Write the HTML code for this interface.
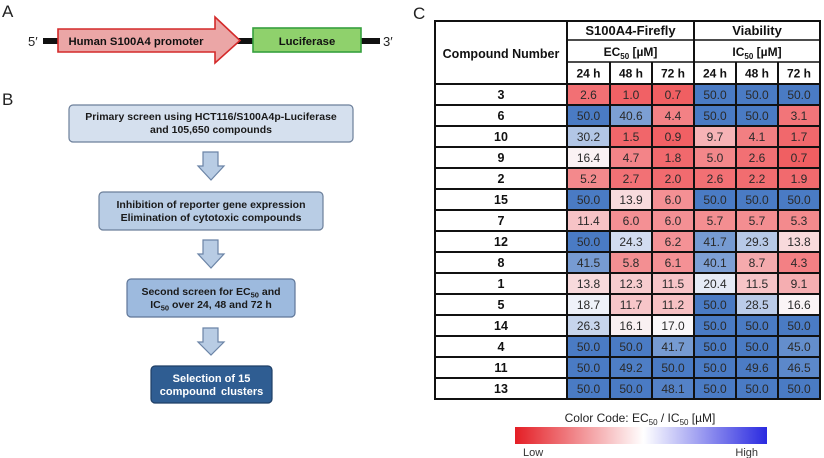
<!DOCTYPE html>
<html><head><meta charset="utf-8"><style>
html,body{margin:0;padding:0;background:#fff;}
svg{display:block;}
text{font-family:"Liberation Sans",Arial,sans-serif;}
</style></head><body>
<svg width="824" height="458" viewBox="0 0 824 458" xmlns="http://www.w3.org/2000/svg">
<defs>
<linearGradient id="cc" x1="0" y1="0" x2="1" y2="0">
<stop offset="0" stop-color="#e41e25"/>
<stop offset="0.51" stop-color="#ffffff"/>
<stop offset="1" stop-color="#2a2ae0"/>
</linearGradient>
</defs>
<rect width="824" height="458" fill="#fff"/>

<!-- Panel A -->
<text x="2" y="17" font-size="17" fill="#222">A</text>
<text x="28" y="46" font-size="13" fill="#222">5′</text>
<rect x="43" y="38" width="337" height="6" fill="#111"/>
<path d="M58,29 L215,29 L215,17 L240,40.5 L215,63 L215,52 L58,52 Z" fill="#eba6a6" stroke="#d42a2a" stroke-width="1.6"/>
<text x="136" y="45" font-size="11.3" font-weight="bold" text-anchor="middle" fill="#111">Human S100A4 promoter</text>
<rect x="253" y="28" width="108" height="24" fill="#8fd16c" stroke="#36a03e" stroke-width="1.6"/>
<text x="307" y="45" font-size="11.3" font-weight="bold" text-anchor="middle" fill="#111">Luciferase</text>
<text x="383" y="46" font-size="13" fill="#222">3′</text>

<!-- Panel B -->
<text x="2" y="105" font-size="17" fill="#222">B</text>
<rect x="69" y="105" width="284" height="37" rx="4" fill="#d5e0ee" stroke="#6c7f9a" stroke-width="1.2"/>
<text x="211" y="120" font-size="10.5" font-weight="bold" text-anchor="middle" fill="#1a1a1a">Primary screen using HCT116/S100A4p-Luciferase</text>
<text x="211" y="133" font-size="10.5" font-weight="bold" text-anchor="middle" fill="#1a1a1a">and 105,650 compounds</text>

<path d="M203,152 L218,152 L218,166 L224,166 L211,180 L198,166 L203,166 Z" fill="#b8cce4" stroke="#6b84a6" stroke-width="1.2"/>

<rect x="99" y="192" width="224" height="38" rx="4" fill="#b9cde5" stroke="#6c7f9a" stroke-width="1.2"/>
<text x="211" y="208" font-size="10.5" font-weight="bold" text-anchor="middle" fill="#1a1a1a">Inhibition of reporter gene expression</text>
<text x="211" y="221" font-size="10.5" font-weight="bold" text-anchor="middle" fill="#1a1a1a">Elimination of cytotoxic compounds</text>

<path d="M203,240 L218,240 L218,254 L224,254 L211,268 L198,254 L203,254 Z" fill="#b8cce4" stroke="#6b84a6" stroke-width="1.2"/>

<rect x="127" y="279" width="168" height="38" rx="4" fill="#9dbade" stroke="#5f7698" stroke-width="1.2"/>
<text x="211" y="295" font-size="10.5" font-weight="bold" text-anchor="middle" fill="#1a1a1a">Second screen for EC<tspan font-size="7.5" dy="2.5">50</tspan><tspan dy="-2.5"> and</tspan></text>
<text x="211" y="308" font-size="10.5" font-weight="bold" text-anchor="middle" fill="#1a1a1a">IC<tspan font-size="7.5" dy="2.5">50</tspan><tspan dy="-2.5"> over 24, 48 and 72 h</tspan></text>

<path d="M203,328 L218,328 L218,342 L224,342 L211,355 L198,342 L203,342 Z" fill="#b8cce4" stroke="#6b84a6" stroke-width="1.2"/>

<rect x="151" y="366" width="121" height="37" rx="4" fill="#2f5d92" stroke="#1f3f66" stroke-width="1.2"/>
<text x="211.5" y="382" font-size="11" font-weight="bold" text-anchor="middle" fill="#fff">Selection of 15</text>
<text x="211.5" y="395" font-size="11" font-weight="bold" text-anchor="middle" fill="#fff" word-spacing="2">compound clusters</text>

<!-- Panel C -->
<text x="413" y="19" font-size="17" fill="#222">C</text>
<rect x="435" y="21" width="385" height="378" fill="#fff"/>

<g id="cells">
<!-- row 3 -->
<rect x="567" y="84" width="43" height="21" fill="#f27074"/><rect x="610" y="84" width="42" height="21" fill="#f16165"/><rect x="652" y="84" width="42" height="21" fill="#f05f62"/><rect x="694" y="84" width="42" height="21" fill="#4a7bc4"/><rect x="736" y="84" width="42" height="21" fill="#4a7bc4"/><rect x="778" y="84" width="42" height="21" fill="#4a7bc4"/>
<!-- row 6 -->
<rect x="567" y="105" width="43" height="21" fill="#4a7bc4"/><rect x="610" y="105" width="42" height="21" fill="#7c9fd4"/><rect x="652" y="105" width="42" height="21" fill="#f38185"/><rect x="694" y="105" width="42" height="21" fill="#4a7bc4"/><rect x="736" y="105" width="42" height="21" fill="#4a7bc4"/><rect x="778" y="105" width="42" height="21" fill="#f27579"/>
<!-- row 10 -->
<rect x="567" y="126" width="43" height="21" fill="#b2c6e6"/><rect x="610" y="126" width="42" height="21" fill="#f1666a"/><rect x="652" y="126" width="42" height="21" fill="#f16064"/><rect x="694" y="126" width="42" height="21" fill="#f6b3b6"/><rect x="736" y="126" width="42" height="21" fill="#f27f82"/><rect x="778" y="126" width="42" height="21" fill="#f1686c"/>
<!-- row 9 -->
<rect x="567" y="147" width="43" height="21" fill="#faf2f4"/><rect x="610" y="147" width="42" height="21" fill="#f38488"/><rect x="652" y="147" width="42" height="21" fill="#f1696d"/><rect x="694" y="147" width="42" height="21" fill="#f3878a"/><rect x="736" y="147" width="42" height="21" fill="#f27074"/><rect x="778" y="147" width="42" height="21" fill="#f05f62"/>
<!-- row 2 -->
<rect x="567" y="168" width="43" height="21" fill="#f3898c"/><rect x="610" y="168" width="42" height="21" fill="#f27175"/><rect x="652" y="168" width="42" height="21" fill="#f16b6f"/><rect x="694" y="168" width="42" height="21" fill="#f27074"/><rect x="736" y="168" width="42" height="21" fill="#f16d70"/><rect x="778" y="168" width="42" height="21" fill="#f16a6e"/>
<!-- row 15 -->
<rect x="567" y="189" width="43" height="21" fill="#4a7bc4"/><rect x="610" y="189" width="42" height="21" fill="#f8dbdd"/><rect x="652" y="189" width="42" height="21" fill="#f49094"/><rect x="694" y="189" width="42" height="21" fill="#4a7bc4"/><rect x="736" y="189" width="42" height="21" fill="#4a7bc4"/><rect x="778" y="189" width="42" height="21" fill="#4a7bc4"/>
<!-- row 7 -->
<rect x="567" y="210" width="43" height="21" fill="#f7c3c6"/><rect x="610" y="210" width="42" height="21" fill="#f49094"/><rect x="652" y="210" width="42" height="21" fill="#f49094"/><rect x="694" y="210" width="42" height="21" fill="#f38e91"/><rect x="736" y="210" width="42" height="21" fill="#f38e91"/><rect x="778" y="210" width="42" height="21" fill="#f38a8d"/>
<!-- row 12 -->
<rect x="567" y="231" width="43" height="21" fill="#4a7bc4"/><rect x="610" y="231" width="42" height="21" fill="#d2dcf0"/><rect x="652" y="231" width="42" height="21" fill="#f49296"/><rect x="694" y="231" width="42" height="21" fill="#769bd2"/><rect x="736" y="231" width="42" height="21" fill="#b7c9e7"/><rect x="778" y="231" width="42" height="21" fill="#f8dadc"/>
<!-- row 8 -->
<rect x="567" y="252" width="43" height="21" fill="#779bd2"/><rect x="610" y="252" width="42" height="21" fill="#f38f92"/><rect x="652" y="252" width="42" height="21" fill="#f49195"/><rect x="694" y="252" width="42" height="21" fill="#7ea0d5"/><rect x="736" y="252" width="42" height="21" fill="#f5aaad"/><rect x="778" y="252" width="42" height="21" fill="#f38084"/>
<!-- row 1 -->
<rect x="567" y="273" width="43" height="21" fill="#f8dadc"/><rect x="610" y="273" width="42" height="21" fill="#f7ccce"/><rect x="652" y="273" width="42" height="21" fill="#f7c4c7"/><rect x="694" y="273" width="42" height="21" fill="#e6ebf6"/><rect x="736" y="273" width="42" height="21" fill="#f7c4c7"/><rect x="778" y="273" width="42" height="21" fill="#f5aeb1"/>
<!-- row 5 -->
<rect x="567" y="294" width="43" height="21" fill="#eff2f9"/><rect x="610" y="294" width="42" height="21" fill="#f7c6c9"/><rect x="652" y="294" width="42" height="21" fill="#f7c1c4"/><rect x="694" y="294" width="42" height="21" fill="#4a7bc4"/><rect x="736" y="294" width="42" height="21" fill="#bbcce9"/><rect x="778" y="294" width="42" height="21" fill="#faf4f6"/>
<!-- row 14 -->
<rect x="567" y="315" width="43" height="21" fill="#c7d5ec"/><rect x="610" y="315" width="42" height="21" fill="#f9f0f2"/><rect x="652" y="315" width="42" height="21" fill="#faf8fa"/><rect x="694" y="315" width="42" height="21" fill="#4a7bc4"/><rect x="736" y="315" width="42" height="21" fill="#4a7bc4"/><rect x="778" y="315" width="42" height="21" fill="#4a7bc4"/>
<!-- row 4 -->
<rect x="567" y="336" width="43" height="21" fill="#4a7bc4"/><rect x="610" y="336" width="42" height="21" fill="#4a7bc4"/><rect x="652" y="336" width="42" height="21" fill="#769bd2"/><rect x="694" y="336" width="42" height="21" fill="#4a7bc4"/><rect x="736" y="336" width="42" height="21" fill="#4a7bc4"/><rect x="778" y="336" width="42" height="21" fill="#648ecc"/>
<!-- row 11 -->
<rect x="567" y="357" width="43" height="21" fill="#4a7bc4"/><rect x="610" y="357" width="42" height="21" fill="#4e7ec5"/><rect x="652" y="357" width="42" height="21" fill="#4a7bc4"/><rect x="694" y="357" width="42" height="21" fill="#4a7bc4"/><rect x="736" y="357" width="42" height="21" fill="#4c7cc5"/><rect x="778" y="357" width="42" height="21" fill="#5c88ca"/>
<!-- row 13 -->
<rect x="567" y="378" width="43" height="21" fill="#4a7bc4"/><rect x="610" y="378" width="42" height="21" fill="#4a7bc4"/><rect x="652" y="378" width="42" height="21" fill="#5482c7"/><rect x="694" y="378" width="42" height="21" fill="#4a7bc4"/><rect x="736" y="378" width="42" height="21" fill="#4a7bc4"/><rect x="778" y="378" width="42" height="21" fill="#4a7bc4"/>
</g>

<g stroke="#111" stroke-width="2" fill="none">
<rect x="435" y="21" width="385" height="378"/>
<line x1="567" y1="40" x2="820" y2="40" stroke-width="1.5"/>
<line x1="567" y1="62" x2="820" y2="62" stroke-width="1.5"/>
<line x1="435" y1="84" x2="820" y2="84"/>
<line x1="435" y1="105" x2="820" y2="105"/>
<line x1="435" y1="126" x2="820" y2="126"/>
<line x1="435" y1="147" x2="820" y2="147"/>
<line x1="435" y1="168" x2="820" y2="168"/>
<line x1="435" y1="189" x2="820" y2="189"/>
<line x1="435" y1="210" x2="820" y2="210"/>
<line x1="435" y1="231" x2="820" y2="231"/>
<line x1="435" y1="252" x2="820" y2="252"/>
<line x1="435" y1="273" x2="820" y2="273"/>
<line x1="435" y1="294" x2="820" y2="294"/>
<line x1="435" y1="315" x2="820" y2="315"/>
<line x1="435" y1="336" x2="820" y2="336"/>
<line x1="435" y1="357" x2="820" y2="357"/>
<line x1="435" y1="378" x2="820" y2="378"/>
<line x1="567" y1="21" x2="567" y2="399"/>
<line x1="694" y1="21" x2="694" y2="399"/>
<line x1="610" y1="62" x2="610" y2="399"/>
<line x1="652" y1="62" x2="652" y2="399"/>
<line x1="736" y1="62" x2="736" y2="399"/>
<line x1="778" y1="62" x2="778" y2="399"/>
</g>

<g font-weight="bold" fill="#111" text-anchor="middle">
<text x="501" y="58" font-size="12.5">Compound Number</text>
<text x="630.5" y="35" font-size="13">S100A4-Firefly</text>
<text x="757" y="35" font-size="13">Viability</text>
<text x="630.5" y="56" font-size="12">EC<tspan font-size="8" dy="3">50</tspan><tspan dy="-3"> [µM]</tspan></text>
<text x="757" y="56" font-size="12">IC<tspan font-size="8" dy="3">50</tspan><tspan dy="-3"> [µM]</tspan></text>
<g font-size="12">
<text x="588.5" y="77.5">24 h</text><text x="631" y="77.5">48 h</text><text x="673" y="77.5">72 h</text>
<text x="715" y="77.5">24 h</text><text x="757" y="77.5">48 h</text><text x="799" y="77.5">72 h</text>
</g>
<g font-size="12.5">
<text x="501" y="99">3</text><text x="501" y="120">6</text><text x="501" y="141">10</text><text x="501" y="162">9</text><text x="501" y="183">2</text><text x="501" y="204">15</text><text x="501" y="225">7</text><text x="501" y="246">12</text><text x="501" y="267">8</text><text x="501" y="288">1</text><text x="501" y="309">5</text><text x="501" y="330">14</text><text x="501" y="351">4</text><text x="501" y="372">11</text><text x="501" y="393">13</text>
</g>
</g>

<g font-size="12" fill="#2a2a2a" text-anchor="middle">
<text x="588.5" y="99">2.6</text><text x="631" y="99">1.0</text><text x="673" y="99">0.7</text><text x="715" y="99">50.0</text><text x="757" y="99">50.0</text><text x="799" y="99">50.0</text>
<text x="588.5" y="120">50.0</text><text x="631" y="120">40.6</text><text x="673" y="120">4.4</text><text x="715" y="120">50.0</text><text x="757" y="120">50.0</text><text x="799" y="120">3.1</text>
<text x="588.5" y="141">30.2</text><text x="631" y="141">1.5</text><text x="673" y="141">0.9</text><text x="715" y="141">9.7</text><text x="757" y="141">4.1</text><text x="799" y="141">1.7</text>
<text x="588.5" y="162">16.4</text><text x="631" y="162">4.7</text><text x="673" y="162">1.8</text><text x="715" y="162">5.0</text><text x="757" y="162">2.6</text><text x="799" y="162">0.7</text>
<text x="588.5" y="183">5.2</text><text x="631" y="183">2.7</text><text x="673" y="183">2.0</text><text x="715" y="183">2.6</text><text x="757" y="183">2.2</text><text x="799" y="183">1.9</text>
<text x="588.5" y="204">50.0</text><text x="631" y="204">13.9</text><text x="673" y="204">6.0</text><text x="715" y="204">50.0</text><text x="757" y="204">50.0</text><text x="799" y="204">50.0</text>
<text x="588.5" y="225">11.4</text><text x="631" y="225">6.0</text><text x="673" y="225">6.0</text><text x="715" y="225">5.7</text><text x="757" y="225">5.7</text><text x="799" y="225">5.3</text>
<text x="588.5" y="246">50.0</text><text x="631" y="246">24.3</text><text x="673" y="246">6.2</text><text x="715" y="246">41.7</text><text x="757" y="246">29.3</text><text x="799" y="246">13.8</text>
<text x="588.5" y="267">41.5</text><text x="631" y="267">5.8</text><text x="673" y="267">6.1</text><text x="715" y="267">40.1</text><text x="757" y="267">8.7</text><text x="799" y="267">4.3</text>
<text x="588.5" y="288">13.8</text><text x="631" y="288">12.3</text><text x="673" y="288">11.5</text><text x="715" y="288">20.4</text><text x="757" y="288">11.5</text><text x="799" y="288">9.1</text>
<text x="588.5" y="309">18.7</text><text x="631" y="309">11.7</text><text x="673" y="309">11.2</text><text x="715" y="309">50.0</text><text x="757" y="309">28.5</text><text x="799" y="309">16.6</text>
<text x="588.5" y="330">26.3</text><text x="631" y="330">16.1</text><text x="673" y="330">17.0</text><text x="715" y="330">50.0</text><text x="757" y="330">50.0</text><text x="799" y="330">50.0</text>
<text x="588.5" y="351">50.0</text><text x="631" y="351">50.0</text><text x="673" y="351">41.7</text><text x="715" y="351">50.0</text><text x="757" y="351">50.0</text><text x="799" y="351">45.0</text>
<text x="588.5" y="372">50.0</text><text x="631" y="372">49.2</text><text x="673" y="372">50.0</text><text x="715" y="372">50.0</text><text x="757" y="372">49.6</text><text x="799" y="372">46.5</text>
<text x="588.5" y="393">50.0</text><text x="631" y="393">50.0</text><text x="673" y="393">48.1</text><text x="715" y="393">50.0</text><text x="757" y="393">50.0</text><text x="799" y="393">50.0</text>
</g>

<!-- legend -->
<text x="640" y="422" font-size="12" text-anchor="middle" fill="#222">Color Code: EC<tspan font-size="8" dy="3">50</tspan><tspan dy="-3"> / IC</tspan><tspan font-size="8" dy="3">50</tspan><tspan dy="-3"> [µM]</tspan></text>
<rect x="515" y="427" width="252" height="17" fill="url(#cc)"/>
<text x="523" y="456" font-size="11" fill="#333">Low</text>
<text x="758" y="456" font-size="11" fill="#333" text-anchor="end">High</text>
</svg>
</body></html>
